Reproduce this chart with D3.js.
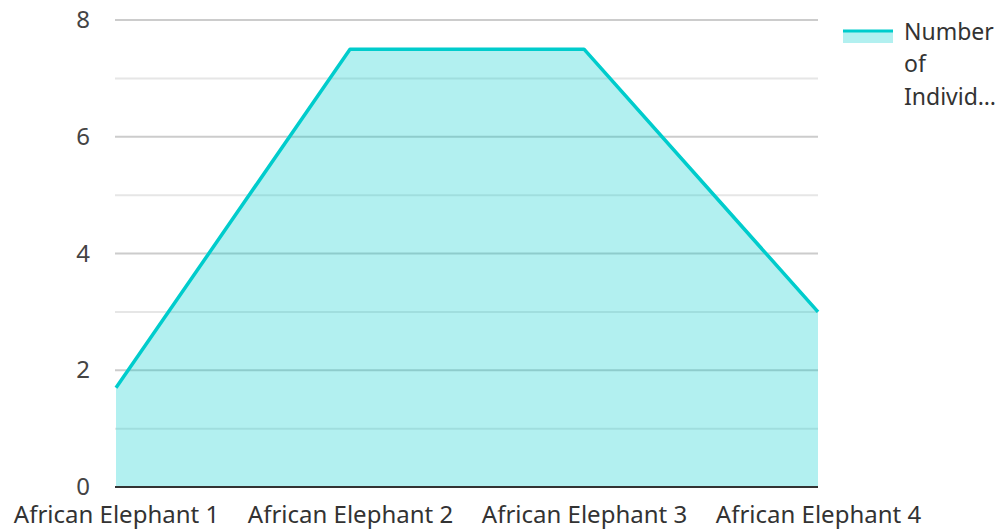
<!DOCTYPE html>
<html>
<head>
<meta charset="utf-8">
<script src="https://cdn.jsdelivr.net/npm/d3@7"></script>
<style>
  body { margin: 0; background: #fff; }
  text { font-family: "Noto Sans", "Open Sans", sans-serif; }
</style>
</head>
<body>
<svg width="1004" height="531"></svg>
<script>
var categories = ["African Elephant 1", "African Elephant 2", "African Elephant 3", "African Elephant 4"]
var individuals = [1.7, 7.5, 7.5, 3]
var seriesName = "Number of Individuals"
var legendLines = ["Number", "of", "Individ\u2026"]
var yTicks = [0, 2, 4, 6, 8]
var yGrid = [1, 2, 3, 4, 5, 6, 7, 8]

function main(){
	var margin = {top: 20, right: 186, bottom: 44, left: 116};
	var svg = d3.select("svg")
	var width = +svg.attr("width") - margin.left - margin.right;
	var height = +svg.attr("height") - margin.top - margin.bottom;

	var canvas = svg.append("g")
	.attr("transform", "translate(" + margin.left + "," + margin.top + ")")

	var xScale = d3.scalePoint().domain(categories).range([0, width]).padding(0)
	var yScale = d3.scaleLinear().domain([0, 8]).range([height, 0])

	// grid lines
	canvas.selectAll(".grid").data(yGrid).enter().append("line")
	.attr("x1", -1).attr("x2", width)
	.attr("y1", d => yScale(d)).attr("y2", d => yScale(d))
	.attr("stroke", d => d % 2 == 0 ? "#cccccc" : "#e6e6e6")
	.attr("stroke-width", 2)

	// area + line
	var area = d3.area()
	.x((d, i) => xScale(categories[i])).y0(height).y1(d => yScale(d))
	var line = d3.line()
	.x((d, i) => xScale(categories[i])).y(d => yScale(d))

	canvas.append("path").datum(individuals)
	.attr("d", area).attr("fill", "rgb(0,204,204)").attr("fill-opacity", 0.3)

	canvas.append("path").datum(individuals)
	.attr("d", line).attr("fill", "none")
	.attr("stroke", "#00cccc").attr("stroke-width", 3.5)
	.attr("stroke-linejoin", "round")

	// baseline
	canvas.append("line")
	.attr("x1", -1).attr("x2", width)
	.attr("y1", height).attr("y2", height)
	.attr("stroke", "#333").attr("stroke-width", 2)

	// y axis labels
	var yAxis = d3.axisLeft(yScale).tickValues(yTicks).tickSize(0).tickPadding(26)
	var gy = canvas.append("g").call(yAxis)
	gy.select(".domain").remove()
	gy.selectAll("text").attr("font-size", 24).attr("fill", "#444")
	.attr("font-family", "Noto Sans")

	// x axis labels
	var xAxis = d3.axisBottom(xScale).tickSize(0).tickPadding(19)
	var gx = canvas.append("g").attr("transform", "translate(0," + height + ")").call(xAxis)
	gx.select(".domain").remove()
	gx.selectAll("text").attr("font-size", 24).attr("fill", "#333")
	.attr("font-family", "Noto Sans")

	// legend
	var legend = svg.append("g").attr("transform", "translate(843,0)")
	legend.append("rect").attr("x", 0).attr("y", 32).attr("width", 50).attr("height", 11)
	.attr("fill", "rgb(0,204,204)").attr("fill-opacity", 0.3)
	legend.append("line").attr("x1", 0).attr("x2", 50).attr("y1", 31).attr("y2", 31)
	.attr("stroke", "#00cccc").attr("stroke-width", 3)
	legend.append("title").text(seriesName)
	legend.selectAll(".lt").data(legendLines).enter().append("text")
	.attr("x", 61).attr("y", (d, i) => 39.5 + i * 32.5)
	.attr("font-size", 23).attr("fill", "#333")
	.text(d => d)
}

window.onload = function() {
  main()
};
</script>
</body>
</html>
